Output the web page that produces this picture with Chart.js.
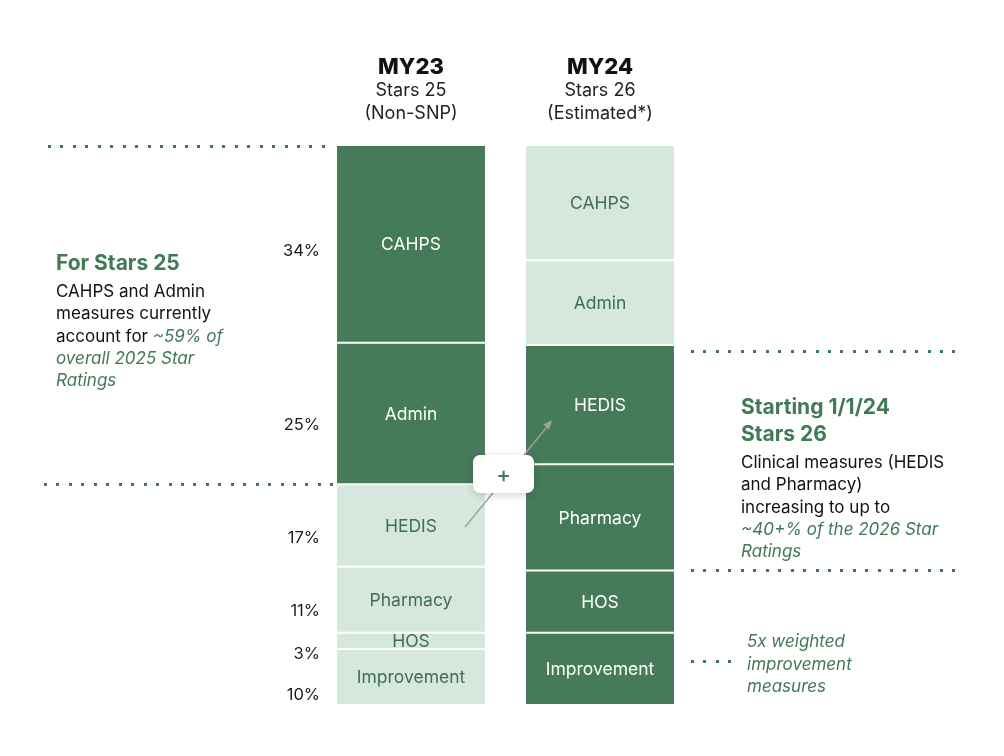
<!DOCTYPE html>
<html>
<head>
<meta charset="utf-8">
<script src="https://cdn.jsdelivr.net/npm/chart.js@4"></script>
<style>
  html, body { margin: 0; padding: 0; background: #fff; }
  #wrap { position: relative; width: 1004px; height: 756px; }
</style>
</head>
<body>
<div id="wrap"><canvas id="chart" width="1004" height="756"></canvas></div>
<script>
// Data (stack order bottom -> top)
const columns = ["MY23", "MY24"];
const columnSub1 = ["Stars 25", "Stars 26"];
const columnSub2 = ["(Non-SNP)", "(Estimated*)"];
const measures = ["Improvement", "HOS", "Pharmacy", "HEDIS", "Admin", "CAHPS"];
const my23Share = [10, 2.9, 11.8, 14.7, 25.3, 35.3];
const my24Share = [12.9, 11.1, 19, 21.3, 15.1, 20.6];
const my23Labels = ["10%", "3%", "11%", "17%", "25%", "34%"];
const my23Dark = [false, false, false, false, true, true];
const my24Dark = [true, true, true, true, false, false];

const DARK = "#467b5a";
const LIGHT = "#d6e8dd";
const GREEN_TEXT = "#417a56";
const FONT = "Inter, Lato, sans-serif";

const datasets = measures.map((m, i) => ({
  label: m,
  data: [my23Share[i], my24Share[i]],
  backgroundColor: [my23Dark[i] ? DARK : LIGHT, my24Dark[i] ? DARK : LIGHT],
  borderColor: "#ffffff",
  borderWidth: { top: 1, bottom: 1, left: 0, right: 0 },
  borderSkipped: false,
}));

function dotLine(ctx, x1, count, y) {
  ctx.fillStyle = GREEN_TEXT;
  for (let i = 0; i < count; i++) ctx.fillRect(Math.round(x1 + i * 12.45) - 1, y - 1, 3, 3);
}

function textLines(ctx, x, y, lines, lh) {
  lines.forEach((parts, i) => {
    let cx = x;
    parts.forEach((p) => {
      ctx.font = p.font;
      ctx.fillStyle = p.color;
      ctx.fillText(p.t, cx, y + i * lh);
      cx += ctx.measureText(p.t).width;
    });
  });
}

const annotations = {
  id: "annotations",
  afterDatasetsDraw(chart) {
    const ctx = chart.ctx;
    ctx.save();

    // segment labels
    chart.data.datasets.forEach((ds, di) => {
      const meta = chart.getDatasetMeta(di);
      meta.data.forEach((bar, ci) => {
        const p = bar.getProps(["x", "y", "base"], true);
        const dark = ci === 0 ? my23Dark[di] : my24Dark[di];
        ctx.font = "17.5px " + FONT;
        ctx.fillStyle = dark ? "#ffffff" : "#3f6f50";
        ctx.textAlign = "center";
        ctx.textBaseline = "middle";
        ctx.fillText(ds.label, p.x, (p.y + p.base) / 2 + 1);
        if (ci === 0) {
          ctx.textAlign = "right";
          ctx.fillStyle = "#1a1a1a";
          ctx.font = "16.5px " + FONT;
          const off = { 0: 18, 1: 13, 2: 11, 3: 13, 4: 12, 5: 7 }[di];
          ctx.fillText(my23Labels[di], 320, p.base - (p.base - p.y) / 2 + off);
        }
      });
    });

    // column headers
    const xs = chart.getDatasetMeta(0).data.map((b) => b.x);
    ctx.textAlign = "center";
    ctx.textBaseline = "alphabetic";
    xs.forEach((x, i) => {
      ctx.fillStyle = "#111";
      ctx.font = "800 22px " + FONT;
      ctx.fillText(columns[i], x, 74);
      ctx.font = "18px " + FONT;
      ctx.fillStyle = "#222";
      ctx.fillText(columnSub1[i], x, 96);
      ctx.fillText(columnSub2[i], x, 119);
    });

    // dotted guides
    dotLine(ctx, 49, 23, 146);
    dotLine(ctx, 45, 24, 484);
    dotLine(ctx, 692, 22, 351);
    dotLine(ctx, 692, 22, 570);
    dotLine(ctx, 692, 4, 661);

    // arrow HEDIS -> HEDIS
    ctx.strokeStyle = "#a0a0a0";
    ctx.lineWidth = 1.5;
    ctx.beginPath();
    ctx.moveTo(465, 527);
    ctx.lineTo(551, 422);
    ctx.stroke();
    ctx.fillStyle = "#a0a0a0";
    ctx.beginPath();
    const ang = Math.atan2(422 - 527, 551 - 465);
    ctx.moveTo(552, 420);
    ctx.lineTo(552 - 10 * Math.cos(ang - 0.4), 420 - 10 * Math.sin(ang - 0.4));
    ctx.lineTo(552 - 10 * Math.cos(ang + 0.4), 420 - 10 * Math.sin(ang + 0.4));
    ctx.closePath();
    ctx.fill();

    // plus button
    ctx.shadowColor = "rgba(0,0,0,0.18)";
    ctx.shadowBlur = 8;
    ctx.shadowOffsetY = 2;
    ctx.fillStyle = "#ffffff";
    ctx.beginPath();
    ctx.roundRect(473, 455, 61, 38, 7);
    ctx.fill();
    ctx.shadowColor = "transparent";
    ctx.fillStyle = GREEN_TEXT;
    ctx.font = "500 22px " + FONT;
    ctx.textAlign = "center";
    ctx.textBaseline = "middle";
    ctx.fillText("+", 503.5, 475);

    // left note
    ctx.textAlign = "left";
    ctx.textBaseline = "alphabetic";
    const reg = "17px " + FONT, ita = "italic 17px " + FONT;
    ctx.font = "bold 21px " + FONT;
    ctx.fillStyle = GREEN_TEXT;
    ctx.fillText("For Stars 25", 56, 270);
    textLines(ctx, 56, 297, [
      [{ t: "CAHPS and Admin", font: reg, color: "#111" }],
      [{ t: "measures currently", font: reg, color: "#111" }],
      [{ t: "account for ", font: reg, color: "#111" }, { t: "~59% of", font: ita, color: GREEN_TEXT }],
      [{ t: "overall 2025 Star", font: ita, color: GREEN_TEXT }],
      [{ t: "Ratings", font: ita, color: GREEN_TEXT }],
    ], 22.3);

    // right note
    ctx.font = "bold 21px " + FONT;
    ctx.fillStyle = GREEN_TEXT;
    ctx.fillText("Starting 1/1/24", 741, 414);
    ctx.fillText("Stars 26", 741, 441);
    textLines(ctx, 741, 468, [
      [{ t: "Clinical measures (HEDIS", font: reg, color: "#111" }],
      [{ t: "and Pharmacy)", font: reg, color: "#111" }],
      [{ t: "increasing to up to", font: reg, color: "#111" }],
      [{ t: "~40+% of the 2026 Star", font: ita, color: GREEN_TEXT }],
      [{ t: "Ratings", font: ita, color: GREEN_TEXT }],
    ], 22.3);

    textLines(ctx, 747, 647, [
      [{ t: "5x weighted", font: ita, color: GREEN_TEXT }],
      [{ t: "improvement", font: ita, color: GREEN_TEXT }],
      [{ t: "measures", font: ita, color: GREEN_TEXT }],
    ], 22.5);

    ctx.restore();
  },
};

new Chart(document.getElementById("chart"), {
  type: "bar",
  data: { labels: columns, datasets },
  options: {
    responsive: false,
    animation: false,
    layout: { padding: { left: 316.5, right: 309.5, top: 145, bottom: 51 } },
    plugins: { legend: { display: false }, tooltip: { enabled: false } },
    datasets: { bar: { categoryPercentage: 1, barPercentage: 0.783 } },
    scales: {
      x: { stacked: true, display: false },
      y: { stacked: true, display: false, min: 0, max: 100 },
    },
  },
  plugins: [annotations],
});
</script>
</body>
</html>
